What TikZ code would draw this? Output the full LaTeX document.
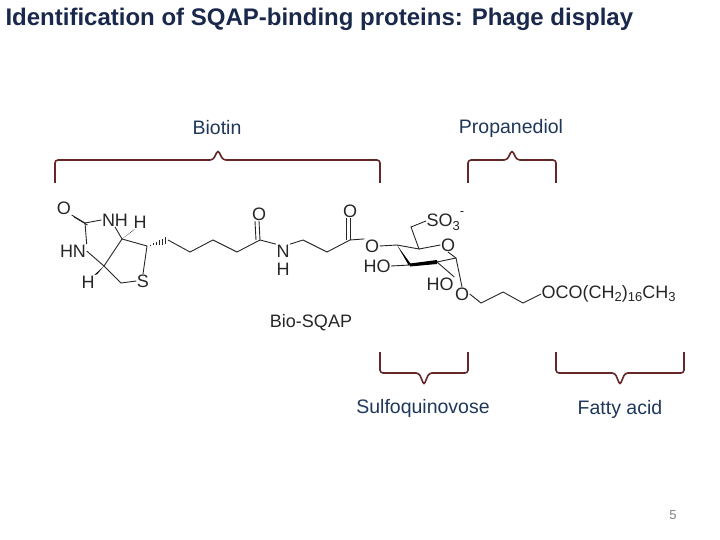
\documentclass[tikz,border=0pt]{standalone}
\usepackage{fontspec}
\setmainfont{Liberation Sans}
\usepackage{tikz}
\usetikzlibrary{calc}

\definecolor{bracered}{RGB}{100,40,40}
\definecolor{titleblue}{RGB}{25,40,75}
\definecolor{labelblue}{RGB}{30,55,90}
\tikzset{
	brace/.style={draw=bracered,line width=1.6pt,rounded corners=3pt},
	bond/.style={draw=black!85,line width=0.9pt},
	atom/.style={inner sep=0.5pt,text=black!85,font=\fontsize{18}{18}\selectfont},
	tag/.style={text=labelblue,font=\fontsize{19.5}{20}\selectfont}
}
\newcommand{\sub}[1]{\raisebox{-0.35ex}{\fontsize{13}{13}\selectfont #1}}
\newcommand{\upbrace}[3]{\draw[brace] (#1,183)-- (#1,160)-- (#3-5,160)-- (#3,150)-- (#3+5,160)-- (#2,160)-- (#2,183);}
\newcommand{\downbrace}[3]{\draw[brace] (#1,352)-- (#1,373)-- (#3-5,373)-- (#3,385)-- (#3+5,373)-- (#2,373)-- (#2,352);}

\begin{document}
\begin{tikzpicture}[x=1pt,y=-1pt]
	\useasboundingbox (0,0) rectangle (720,540);
	\node[anchor=west,text=titleblue,font=\bfseries\fontsize{24}{24}\selectfont] (title) at (2,19) {Identification of SQAP-binding proteins: Phage display};

	% braces
	\upbrace{55}{380}{218}
	\upbrace{468}{556}{512}
	\downbrace{380}{468}{424}
	\downbrace{556}{684}{620}

	\node[tag] (biotin) at (217,128) {Biotin};
	\node[tag] (prop) at (511,128) {Propanediol};
	\node[tag] (sulfo) at (423,408) {Sulfoquinovose};
	\node[tag] (fatty) at (620,409) {Fatty acid};

	% biotin part
	\node[atom] (o1) at (64,208) {O};
	\node[atom] (nh1) at (115,220) {NH};
	\node[atom] (h1) at (140,222) {H};
	\node[atom] (hn) at (73,251) {HN};
	\node[atom] (h2) at (88,282) {H};
	\node[atom] (s) at (143,281) {S};
	\coordinate (cu) at (85,223);
	\coordinate (ba) at (122,239);
	\coordinate (bb) at (104,266);
	\coordinate (cs) at (147,246);
	\coordinate (cm) at (121,283);
	\draw[bond] (cu)-- (o1.south east);
	\draw[bond] ([xshift=2.5pt,yshift=-2pt]cu)-- ([xshift=2.5pt,yshift=-2pt]o1.south east);
	\draw[bond] (cu)-- (nh1.west);
	\draw[bond] (cu)-- (hn.north east);
	\draw[bond] (nh1.south)-- (ba);
	\draw[bond] (hn.east)-- (bb);
	\draw[bond] (ba)-- (bb);
	\fill (ba)-- ([yshift=-2pt]h1.south west)-- ([xshift=2pt]h1.south west)-- cycle;
	\fill (bb)-- ([xshift=-1pt]h2.north east)-- ([xshift=2pt,yshift=1pt]h2.north east)-- cycle;
	\draw[bond] (ba)-- (cs)-- (s.north);
	\draw[bond] (s.west)-- (cm)-- (bb);
	\foreach \i in {1,...,6}
		\draw[bond,line width=0.6pt] ($(cs)!\i/7!(168,240)+(0,{-0.6*\i})$)-- ($(cs)!\i/7!(168,240)+(0,{0.6*\i})$);
	\draw[bond] (168,240)-- (190,252)-- (213,240)-- (237,252)-- (260,240);
	\node[atom] (o2) at (259,214) {O};
	\node[atom] (n) at (283,251) {N};
	\node[atom] (hnb) at (283,269) {H};
	\draw[bond] (260,240)-- (o2.south);
	\draw[bond] (256,240)-- ([xshift=-4pt]o2.south);
	\draw[bond] (260,240)-- (n.north west);
	\draw[bond] (n.north east)-- (303,240)-- (327,252)-- (350,240);
	\node[atom] (o3) at (350,211) {O};
	\node[atom] (o4) at (372,246) {O};
	\draw[bond] (350,240)-- (o3.south);
	\draw[bond] (346,240)-- ([xshift=-4pt]o3.south);
	\draw[bond] (350,240)-- (o4.north west);

	% sugar part
	\node[atom,anchor=west] (so3) at (426,221) {SO\sub{3}\raisebox{1.2ex}{\fontsize{13}{13}\selectfont -}};
	\node[atom] (or) at (448,245) {O};
	\node[atom] (ho1) at (377,266) {HO};
	\node[atom] (ho2) at (440,284) {HO};
	\node[atom] (o5) at (462,294) {O};
	\coordinate (c4) at (397,245);
	\coordinate (c5) at (419,249);
	\coordinate (c6) at (411,227);
	\coordinate (c3) at (410,265);
	\coordinate (c2) at (437,262);
	\coordinate (c1) at (456,258);
	\draw[bond] (o4.east)-- (c4)-- (c5)-- (c6)-- (so3.west);
	\draw[bond] (c5)-- (or.west);
	\draw[bond] (or.south)-- (c1);
	\fill (c4)-- ([xshift=1.5pt]c3)-- ([xshift=-1.5pt]c3)-- cycle;
	\fill ([yshift=-1.5pt]c3)-- ([yshift=-2pt]c2)-- ([yshift=2pt]c2)-- ([yshift=1.5pt]c3)-- cycle;
	\draw[bond] (c2)-- (c1);
	\draw[bond] (ho1.east)-- (c3);
	\draw[bond] (c2)-- (ho2.north east);
	\draw[bond] (c1)-- (o5.north);
	\draw[bond] (o5.east)-- (481,303)-- (503,292)-- (523,303)-- (541,294);
	\node[atom,anchor=west] (fa) at (541,294) {OCO(CH\sub{2})\sub{16}CH\sub{3}};

	\node[atom] (bio) at (311,323) {Bio-SQAP};
	\node[text=gray,font=\fontsize{13}{13}\selectfont] (page) at (673,515) {5};
\end{tikzpicture}
\end{document}
